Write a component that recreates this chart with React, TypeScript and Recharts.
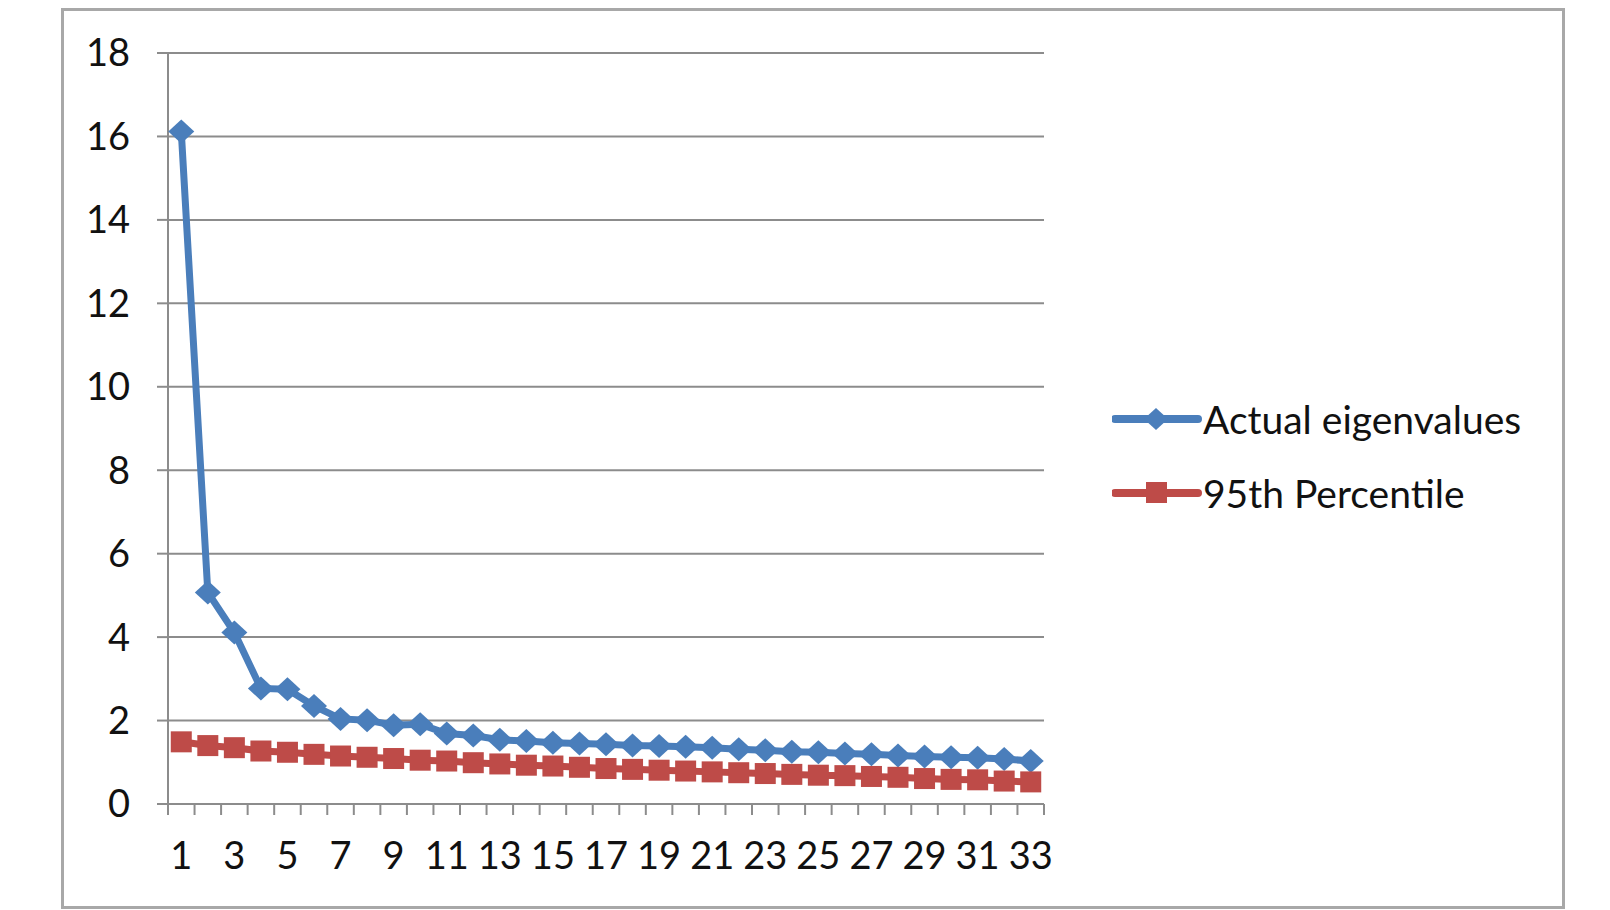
import React from 'react';
import { LineChart, Line, XAxis, YAxis, CartesianGrid } from 'recharts';

const components = [
  1, 2, 3, 4, 5, 6, 7, 8, 9, 10, 11, 12, 13, 14, 15, 16, 17,
  18, 19, 20, 21, 22, 23, 24, 25, 26, 27, 28, 29, 30, 31, 32, 33,
];
const actualEigenvalues = [
  16.12, 5.07, 4.11, 2.77, 2.75, 2.35, 2.04, 2.01, 1.89, 1.91, 1.69,
  1.64, 1.54, 1.51, 1.47, 1.45, 1.43, 1.4, 1.39, 1.37, 1.35, 1.31,
  1.29, 1.25, 1.24, 1.21, 1.19, 1.16, 1.14, 1.12, 1.11, 1.08, 1.03,
];
const percentile95 = [
  1.49, 1.4, 1.35, 1.27, 1.24, 1.19, 1.15, 1.12, 1.09, 1.05, 1.03,
  0.99, 0.96, 0.93, 0.91, 0.88, 0.85, 0.83, 0.81, 0.79, 0.77, 0.75,
  0.73, 0.71, 0.69, 0.68, 0.66, 0.64, 0.61, 0.59, 0.58, 0.55, 0.53,
];
const yTicks = [0, 2, 4, 6, 8, 10, 12, 14, 16, 18];
const xLabelTicks = [1, 3, 5, 7, 9, 11, 13, 15, 17, 19, 21, 23, 25, 27, 29, 31, 33];

const seriesNames = ['Actual eigenvalues', '95th Percentile'];
const seriesColors = ['#4a7ebb', '#be4b48'];

const FONT = 'Lato, "Open Sans", sans-serif';
const GRID = '#8c8c8c';
const TEXT = '#111';

const data = components.map((c, i) => ({
  comp: c,
  actual: actualEigenvalues[i],
  p95: percentile95[i],
}));

// boundaries between categories (tick marks) plus odd labels
const boundaryTicks = [components[0] - 0.5, ...components.map((c) => c + 0.5)];
const xTicks = [...boundaryTicks, ...xLabelTicks].sort((a, b) => a - b);

const Diamond = (props: any) => {
  const { cx, cy, fill, index } = props;
  if (cx == null || cy == null) return null;
  const w = 13;
  const h = 12;
  return (
    <polygon
      key={`d-${index}`}
      points={`${cx},${cy - h} ${cx + w},${cy} ${cx},${cy + h} ${cx - w},${cy}`}
      fill={fill}
    />
  );
};

const Square = (props: any) => {
  const { cx, cy, fill, index } = props;
  if (cx == null || cy == null) return null;
  const s = 10.5;
  return <rect key={`s-${index}`} x={cx - s} y={cy - s} width={2 * s} height={2 * s} fill={fill} />;
};

const XTick = (props: any) => {
  const { x, y, payload } = props;
  const v = payload.value;
  if (Number.isInteger(v)) {
    return (
      <text x={x} y={y + 65} textAnchor="middle" fill={TEXT} fontSize={38} fontFamily={FONT}>
        {v}
      </text>
    );
  }
  return <line x1={x} x2={x} y1={y} y2={y + 11} stroke={GRID} strokeWidth={2} />;
};

export default function App() {
  return (
    <div
      style={{
        position: 'absolute',
        left: 0,
        top: 0,
        width: 1610,
        height: 910,
        background: '#fff',
        fontFamily: FONT,
      }}
    >
      <div
        style={{
          position: 'absolute',
          left: 61,
          top: 8,
          width: 1504,
          height: 901,
          boxSizing: 'border-box',
          border: '3px solid #a8a8a8',
        }}
      />
      <div style={{ position: 'absolute', left: 0, top: 0 }}>
        <LineChart
          width={1610}
          height={910}
          data={data}
          margin={{ top: 53, right: 566, bottom: 6, left: 68 }}
        >
          <CartesianGrid horizontal vertical={false} stroke={GRID} strokeWidth={2} />
          <XAxis
            dataKey="comp"
            type="number"
            domain={[0.5, 33.5]}
            ticks={xTicks}
            interval={0}
            tick={<XTick />}
            tickLine={false}
            tickSize={0}
            tickMargin={0}
            axisLine={{ stroke: GRID, strokeWidth: 2 }}
            height={100}
          />
          <YAxis
            type="number"
            domain={[0, 18]}
            ticks={yTicks}
            interval={0}
            tickSize={11}
            tickMargin={27}
            tickLine={{ stroke: GRID, strokeWidth: 2 }}
            axisLine={{ stroke: GRID, strokeWidth: 2 }}
            tick={{ fill: TEXT, fontSize: 38, fontFamily: FONT }}
            width={100}
          />
          <Line
            dataKey="actual"
            name={seriesNames[0]}
            stroke={seriesColors[0]}
            fill={seriesColors[0]}
            strokeWidth={7}
            dot={<Diamond />}
            activeDot={false}
            isAnimationActive={false}
          />
          <Line
            dataKey="p95"
            name={seriesNames[1]}
            stroke={seriesColors[1]}
            fill={seriesColors[1]}
            strokeWidth={7}
            dot={<Square />}
            activeDot={false}
            isAnimationActive={false}
          />
        </LineChart>
      </div>
      {seriesNames.map((name, i) => (
        <div
          key={name}
          style={{
            position: 'absolute',
            left: 1112,
            top: 394 + i * 74,
            height: 50,
            display: 'flex',
            alignItems: 'center',
          }}
        >
          <svg width={91} height={50}>
            <line x1={3} x2={86} y1={25} y2={25} stroke={seriesColors[i]} strokeWidth={8} strokeLinecap="round" />
            {i === 0 ? (
              <polygon points="44,14 56,25 44,36 32,25" fill={seriesColors[i]} />
            ) : (
              <rect x={34} y={14} width={21} height={21} fill={seriesColors[i]} />
            )}
          </svg>
          <span style={{ fontSize: 39, color: TEXT, fontFamily: FONT, whiteSpace: 'nowrap' }}>{name}</span>
        </div>
      ))}
    </div>
  );
}
